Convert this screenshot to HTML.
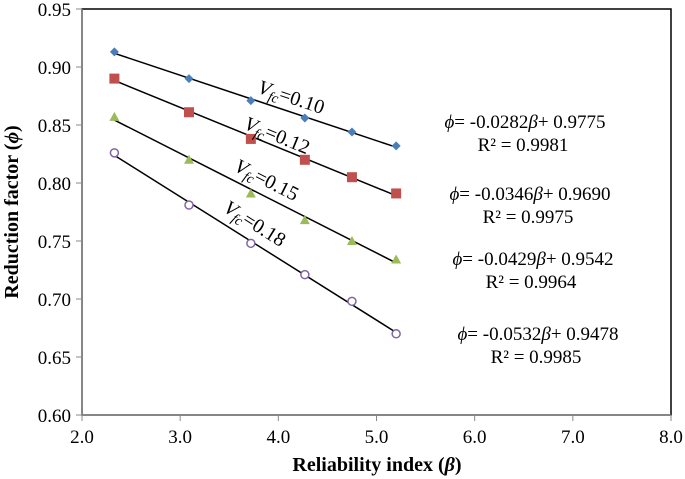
<!DOCTYPE html>
<html><head><meta charset="utf-8"><style>
body{margin:0;background:#fff;}
svg, svg text{font-family:"Liberation Serif","DejaVu Serif",serif;}
svg{display:block;}
</style></head><body>
<svg id="chart" width="685" height="479" font-family="Liberation Serif, DejaVu Serif, serif">
<rect x="82" y="9" width="589" height="406" fill="#fff" stroke="#000" stroke-width="1.5"/>
<g id="axes"></g><g id="marks"></g>
<text x="18" y="212" transform="rotate(-90 18 212)" text-anchor="middle" font-weight="bold" font-size="20">Reduction factor (<tspan font-style="italic">ϕ</tspan>)</text>
<text x="377" y="471" text-anchor="middle" font-weight="bold" font-size="20">Reliability index (<tspan font-style="italic">β</tspan>)</text>
</svg>
<script>
const xs=[2.33,3.09,3.72,4.27,4.75,5.2];
const s1=[0.913,0.890,0.871,0.856,0.844,0.832];
const s2=[0.890,0.861,0.838,0.820,0.805,0.791];
const s3=[0.857,0.820,0.791,0.768,0.750,0.734];
const s4=[0.826,0.781,0.748,0.721,0.698,0.670];
const slopes=[-0.0282,-0.0346,-0.0429,-0.0532];
const intercepts=[0.9775,0.9690,0.9542,0.9478];
const r2=["0.9981","0.9975","0.9964","0.9985"];
const labels=["0.10","0.12","0.15","0.18"];
const xTicks=[2,3,4,5,6,7,8];
const yTicks=[0.60,0.65,0.70,0.75,0.80,0.85,0.90,0.95];
const X=v=>82+(v-2)*98.17, Y=v=>415-(v-0.6)/0.35*406;
const NS="http://www.w3.org/2000/svg";
function mk(t,a,p){const e=document.createElementNS(NS,t);for(const k in a)e.setAttribute(k,a[k]);p.appendChild(e);return e;}
const ax=document.getElementById('axes'),mg=document.getElementById('marks');
mk('line',{x1:82,y1:9,x2:82,y2:415,stroke:'#888','stroke-width':1.5},ax);
mk('line',{x1:82,y1:415,x2:671,y2:415,stroke:'#888','stroke-width':1.5},ax);
xTicks.forEach(v=>{mk('line',{x1:X(v),y1:415,x2:X(v),y2:421,stroke:'#888'},ax);
const t=mk('text',{x:X(v),y:443,'text-anchor':'middle','font-size':19},ax);t.textContent=v.toFixed(1);
});
yTicks.forEach(v=>{mk('line',{x1:76,y1:Y(v),x2:82,y2:Y(v),stroke:'#888'},ax);
const t=mk('text',{x:71,y:Y(v)+7,'text-anchor':'end','font-size':19},ax);t.textContent=v.toFixed(2);
});
const series=[s1,s2,s3,s4],cols=['#4a7ebb','#c0504d','#9bbb59','#8064a2'];
const lblPos=[[3.78,0.878],[3.64,0.847],[3.54,0.811],[3.43,0.776]];
const eqPos=[[525,128],[530,200],[533,265],[538,340]];
series.forEach((s,i)=>{
 const x0=xs[0],x1=xs[xs.length-1];
 const l=mk('line',{x1:X(x0),y1:Y(slopes[i]*x0+intercepts[i]),x2:X(x1),y2:Y(slopes[i]*x1+intercepts[i]),stroke:'#000','stroke-width':1.5},mg);
 
 s.forEach((v,j)=>{const cx=X(xs[j]),cy=Y(v);let e;
  if(i==0)e=mk('polygon',{points:`${cx},${cy-4.5} ${cx+4.5},${cy} ${cx},${cy+4.5} ${cx-4.5},${cy}`,fill:cols[0]},mg);
  else if(i==1)e=mk('rect',{x:cx-5,y:cy-5,width:10,height:10,fill:cols[1]},mg);
  else if(i==2)e=mk('polygon',{points:`${cx},${cy-5} ${cx+5},${cy+4} ${cx-5},${cy+4}`,fill:cols[2]},mg);
  else e=mk('circle',{cx:cx,cy:cy,r:4,fill:'#fff',stroke:cols[3],'stroke-width':1.5},mg);
  });
 const ang=Math.atan(-slopes[i]*406/0.35/98.17)*180/Math.PI;
 const lx=X(lblPos[i][0]),ly=Y(lblPos[i][1]);
 const t=mk('text',{x:lx,y:ly,'font-size':20,transform:`rotate(${ang} ${lx} ${ly})`},mg);
 t.innerHTML=`<tspan font-style="italic">V</tspan><tspan font-style="italic" font-size="14" dy="4">fc</tspan><tspan dy="-4">=${labels[i]}</tspan>`;
 
 const e1=mk('text',{x:eqPos[i][0],y:eqPos[i][1],'text-anchor':'middle','font-size':19},mg);
 e1.innerHTML=`<tspan font-style="italic">ϕ</tspan>= ${slopes[i].toFixed(4)}<tspan font-style="italic">β</tspan>+ ${intercepts[i].toFixed(4)}`;
 
 const e2=mk('text',{x:eqPos[i][0]-2,y:eqPos[i][1]+23,'text-anchor':'middle','font-size':19},mg);
 e2.textContent='R² = '+r2[i];
 
});
</script>
</body></html>
